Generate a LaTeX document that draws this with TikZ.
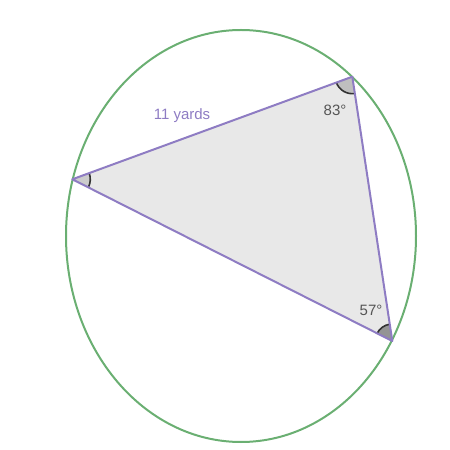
\documentclass[tikz,border=0pt]{standalone}
\usepackage{fontspec}
\setmainfont{Liberation Sans}
\usetikzlibrary{angles}
\definecolor{triline}{HTML}{8E7CC3}
\definecolor{circline}{HTML}{6AAF72}
\definecolor{trifill}{HTML}{E8E8E8}
\definecolor{labgray}{HTML}{555555}
\tikzset{
  side/.style={draw=triline, line width=2pt, line join=round},
  circ/.style={draw=circline, line width=2pt},
  anglemark/.style={draw=black!80, line width=1.6pt},
  lab/.style={font=\fontsize{15}{18}\selectfont, text=labgray, inner sep=0pt}
}
\begin{document}
\begin{tikzpicture}[x=1pt,y=1pt]
\useasboundingbox (0,0) rectangle (450,450);
\coordinate (A) at (72.3,270.7);
\coordinate (B) at (352.3,373.3);
\coordinate (C) at (392.3,109);
\coordinate (O) at (241,214);
\fill[trifill] (A) -- (B) -- (C) -- cycle;
\pic[anglemark, fill=black!25, angle radius=17pt] {angle=A--B--C};
\pic[anglemark, fill=black!42, angle radius=17pt] {angle=B--C--A};
\pic[anglemark, fill=black!20, angle radius=18pt] {angle=C--A--B};
\draw[circ] (O) ellipse [x radius=175, y radius=206];
\draw[side] (A) -- (B) -- (C) -- cycle;
\node[lab, text=triline] (len) at (182,334) {11 yards};
\node[lab] (angB) at (335,340) {83°};
\node[lab] (angC) at (371,140) {57°};
\end{tikzpicture}
\end{document}
